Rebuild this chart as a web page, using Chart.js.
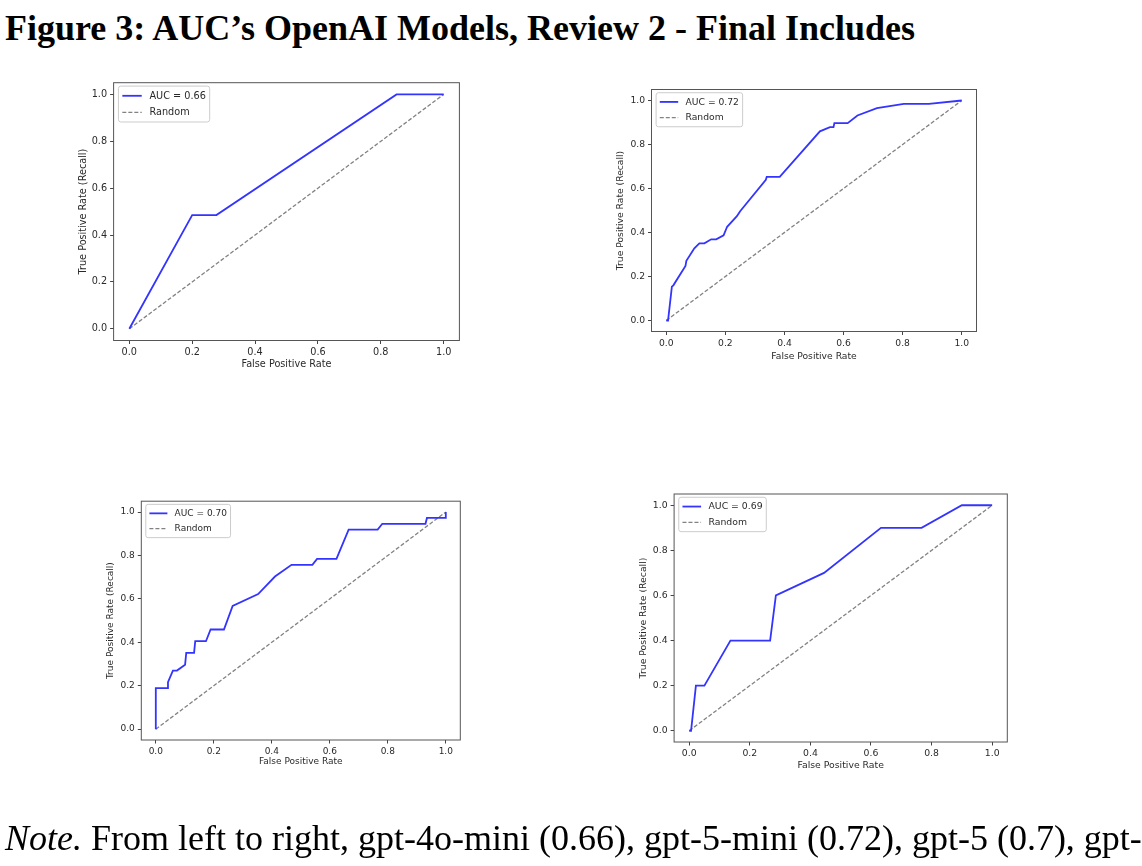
<!DOCTYPE html>
<html>
<head>
<meta charset="utf-8">
<script src="https://cdn.jsdelivr.net/npm/chart.js@4.4.1/dist/chart.umd.min.js"></script>
<style>
  html, body { margin: 0; padding: 0; background: #fff; }
  body { width: 1142px; height: 866px; position: relative; overflow: hidden; }
  #title { position: absolute; left: 5px; top: 10px; font: bold 36px "Liberation Serif", "Times New Roman", serif; line-height: 36px; white-space: nowrap; color: #000; }
  #note { position: absolute; left: 5px; top: 820px; font: 36px "Liberation Serif", "Times New Roman", serif; line-height: 36px; white-space: nowrap; color: #000; }
  canvas { position: absolute; left: 0; top: 0; }
</style>
</head>
<body>
<div id="title">Figure 3: AUC’s OpenAI Models, Review 2 - Final Includes</div>
<canvas id="c1"></canvas>
<canvas id="c2"></canvas>
<canvas id="c3"></canvas>
<canvas id="c4"></canvas>
<div id="note"><i>Note.</i> From left to right, gpt-4o-mini (0.66), gpt-5-mini (0.72), gpt-5 (0.7), gpt-</div>
<script>
// ---------- data ----------
const tickVals = [0, 0.2, 0.4, 0.6, 0.8, 1.0];
const randomX = [0, 1];
const randomY = [0, 1];

const fpr1 = [0, 0.2, 0.277, 0.85, 1];
const tpr1 = [0, 0.485, 0.485, 1, 1];

const fpr2 = [0, 0.006, 0.019, 0.024, 0.065, 0.068, 0.095, 0.112, 0.129, 0.152, 0.169, 0.194, 0.206, 0.239, 0.25, 0.337, 0.34, 0.384, 0.52, 0.554, 0.566, 0.569, 0.614, 0.647, 0.713, 0.804, 0.889, 1];
const tpr2 = [0, 0, 0.154, 0.16, 0.248, 0.271, 0.328, 0.351, 0.351, 0.369, 0.369, 0.387, 0.426, 0.474, 0.497, 0.64, 0.653, 0.653, 0.86, 0.879, 0.879, 0.897, 0.897, 0.932, 0.965, 0.985, 0.985, 1];

const fpr3 = [0, 0, 0.042, 0.042, 0.059, 0.073, 0.101, 0.105, 0.132, 0.136, 0.173, 0.189, 0.235, 0.265, 0.353, 0.411, 0.468, 0.54, 0.556, 0.623, 0.665, 0.765, 0.781, 0.93, 0.935, 1, 1];
const tpr3 = [0, 0.189, 0.189, 0.216, 0.27, 0.27, 0.297, 0.351, 0.351, 0.405, 0.405, 0.459, 0.459, 0.568, 0.622, 0.703, 0.757, 0.757, 0.784, 0.784, 0.919, 0.919, 0.946, 0.946, 0.973, 0.973, 1];

const fpr4 = [0, 0.006, 0.022, 0.05, 0.136, 0.267, 0.286, 0.445, 0.633, 0.767, 0.9, 1];
const tpr4 = [0, 0, 0.2, 0.2, 0.4, 0.4, 0.6, 0.7, 0.9, 0.9, 1, 1];

const aucLabels = ['AUC = 0.66', 'AUC = 0.72', 'AUC = 0.70', 'AUC = 0.69'];
const randomLabel = 'Random';
const xTitle = 'False Positive Rate';
const yTitle = 'True Positive Rate (Recall)';

// ---------- layout (page px) ----------
const PAGE_W = 1142, PAGE_H = 866;
const panels = [
  { id: 'c1', frame: [113.6, 82.7, 459.4, 340.5], font: 9.7, xH: 30 },
  { id: 'c2', frame: [651.5, 89.5, 976.5, 331.5], font: 9.2, xH: 30.5 },
  { id: 'c3', frame: [141.3, 501.2, 460.3, 740.0], font: 9.0, xH: 27 },
  { id: 'c4', frame: [674.1, 494.0, 1007.3, 742.0], font: 9.3, xH: 29.5 }
];
const series = [[fpr1, tpr1], [fpr2, tpr2], [fpr3, tpr3], [fpr4, tpr4]];

const TEXT = '#2a2a2a';
const FAMILY = '"DejaVu Sans", Verdana, sans-serif';

const framePlugin = {
  id: 'framePlugin',
  afterDatasetsDraw(chart) {
    const { ctx, chartArea: a } = chart;
    ctx.save();
    ctx.strokeStyle = '#555555';
    ctx.lineWidth = 1;
    ctx.strokeRect(a.left, a.top, a.right - a.left, a.bottom - a.top);
    ctx.restore();
  }
};

const insideLegend = {
  id: 'insideLegend',
  afterDatasetsDraw(chart, args, opts) {
    const { ctx, chartArea: a } = chart;
    const f = opts.fontSize;
    const ds = chart.data.datasets;
    ctx.save();
    ctx.font = f + 'px ' + FAMILY;
    const pad = 0.4 * f, hl = 2 * f, hp = 0.8 * f, rowH = 1.2 * f, sp = 0.5 * f, ax = 0.5 * f;
    const textW = Math.max(...ds.map(d => ctx.measureText(d.label).width));
    const w = pad * 2 + hl + hp + textW;
    const h = pad * 2 + rowH * ds.length + sp * (ds.length - 1);
    const x = a.left + ax, y = a.top + ax * 0.7;
    ctx.beginPath();
    ctx.roundRect(x, y, w, h, 0.25 * f);
    ctx.fillStyle = 'rgba(255,255,255,0.85)';
    ctx.fill();
    ctx.strokeStyle = '#cccccc';
    ctx.lineWidth = 1;
    ctx.stroke();
    ds.forEach((d, i) => {
      const cy = y + pad + rowH / 2 + i * (rowH + sp);
      ctx.beginPath();
      ctx.setLineDash(d.borderDash || []);
      ctx.strokeStyle = d.borderColor;
      ctx.lineWidth = d.borderWidth;
      ctx.moveTo(x + pad, cy);
      ctx.lineTo(x + pad + hl, cy);
      ctx.stroke();
      ctx.setLineDash([]);
      ctx.fillStyle = TEXT;
      ctx.textBaseline = 'middle';
      ctx.textAlign = 'left';
      ctx.fillText(d.label, x + pad + hl + hp, cy + 0.5);
    });
    ctx.restore();
  }
};

function pts(xs, ys) { return xs.map((x, i) => ({ x: x, y: ys[i] })); }

function axisCommon(f, titleText) {
  return {
    type: 'linear',
    min: -0.05,
    max: 1.05,
    afterBuildTicks: s => { s.ticks = tickVals.map(v => ({ value: v })); },
    ticks: {
      callback: v => Number(v).toFixed(1),
      font: { family: FAMILY, size: f },
      color: TEXT,
      padding: 3,
      maxRotation: 0,
      autoSkip: false
    },
    grid: { drawOnChartArea: false, drawTicks: true, tickLength: 3.5, color: '#444444', tickWidth: 1 },
    border: { display: false },
    title: { display: true, text: titleText, font: { family: FAMILY, size: f }, color: TEXT, padding: 0 }
  };
}

panels.forEach((p, k) => {
  const [L, T, R, B] = p.frame;
  const f = p.font;
  const yW = 36;
  const cv = document.getElementById(p.id);
  cv.width = PAGE_W; cv.height = PAGE_H;
  cv.style.width = PAGE_W + 'px'; cv.style.height = PAGE_H + 'px';
  const xAxis = axisCommon(f, xTitle);
  xAxis.afterFit = s => { s.height = p.xH; };
  const yAxis = axisCommon(f, yTitle);
  yAxis.afterFit = s => { s.width = yW; };
  new Chart(cv, {
    type: 'scatter',
    data: {
      datasets: [
        { label: aucLabels[k], data: pts(series[k][0], series[k][1]), showLine: true, borderColor: '#3434ff', borderWidth: 1.8, pointRadius: 0, tension: 0, fill: false },
        { label: randomLabel, data: pts(randomX, randomY), showLine: true, borderColor: '#828282', borderWidth: 1.3, borderDash: [4, 2], pointRadius: 0, tension: 0, fill: false }
      ]
    },
    options: {
      responsive: false,
      animation: false,
      devicePixelRatio: 1,
      layout: { padding: { left: L - yW, top: T, right: PAGE_W - R, bottom: PAGE_H - B - p.xH } },
      plugins: { legend: { display: false }, tooltip: { enabled: false }, insideLegend: { fontSize: f } },
      scales: { x: xAxis, y: yAxis }
    },
    plugins: [framePlugin, insideLegend]
  });
});
</script>
</body>
</html>
